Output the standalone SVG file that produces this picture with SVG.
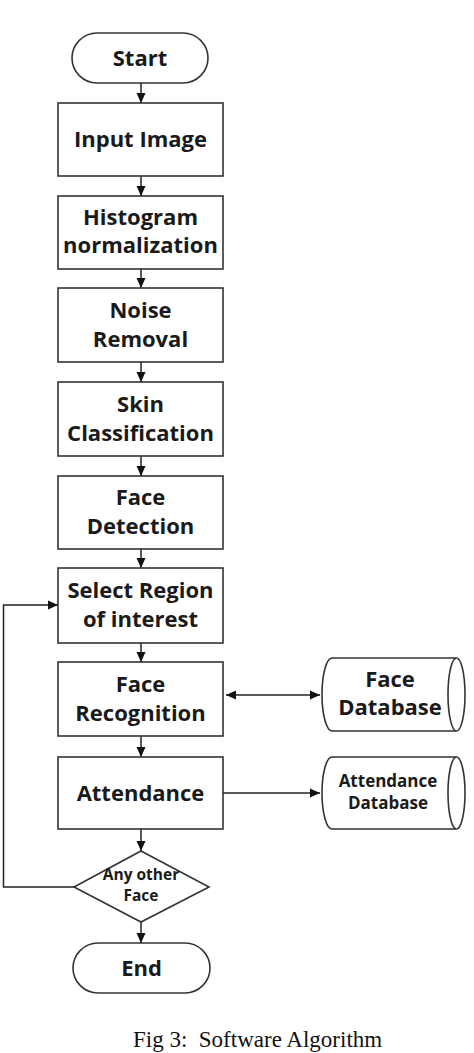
<svg xmlns="http://www.w3.org/2000/svg" width="474" height="1053" viewBox="0 0 474 1053">
<style>
.box{fill:#fff;stroke:#333;stroke-width:1.6}
.t{font-family:"Open Sans","Liberation Sans",sans-serif;font-weight:700;font-size:22px;fill:#1a1a1a;text-anchor:middle}
.ts{font-size:17px}
.td{font-size:15.5px}
.c{fill:none;stroke:#222;stroke-width:1.5}
.cap{font-family:"Liberation Serif","Times New Roman",serif;font-size:23px;fill:#111}
</style>
<defs>
<marker id="ah" markerUnits="userSpaceOnUse" markerWidth="10" markerHeight="10" viewBox="0 0 10 10" refX="10" refY="5" orient="auto">
<path d="M0,0.5 L10,5 L0,9.5 Z" fill="#111"/>
</marker>
<marker id="ahs" markerUnits="userSpaceOnUse" markerWidth="10" markerHeight="10" viewBox="0 0 10 10" refX="0" refY="5" orient="auto">
<path d="M10,0.5 L0,5 L10,9.5 Z" fill="#111"/>
</marker>
</defs>
<g id="connectors">
<line class="c" x1="141" y1="83" x2="141" y2="103" marker-end="url(#ah)"/>
<line class="c" x1="141" y1="176" x2="141" y2="196" marker-end="url(#ah)"/>
<line class="c" x1="141" y1="269" x2="141" y2="288" marker-end="url(#ah)"/>
<line class="c" x1="141" y1="362" x2="141" y2="382" marker-end="url(#ah)"/>
<line class="c" x1="141" y1="456" x2="141" y2="476" marker-end="url(#ah)"/>
<line class="c" x1="141" y1="549" x2="141" y2="568" marker-end="url(#ah)"/>
<line class="c" x1="141" y1="643" x2="141" y2="662" marker-end="url(#ah)"/>
<line class="c" x1="141" y1="736" x2="141" y2="757" marker-end="url(#ah)"/>
<line class="c" x1="141" y1="829" x2="141" y2="851" marker-end="url(#ah)"/>
<line class="c" x1="141" y1="922" x2="141" y2="943" marker-end="url(#ah)"/>
<line class="c" x1="226" y1="695" x2="320" y2="695" marker-start="url(#ahs)" marker-end="url(#ah)"/>
<line class="c" x1="223" y1="793" x2="320" y2="793" marker-end="url(#ah)"/>
<polyline class="c" points="74,887 3.5,887 3.5,605 58,605" marker-end="url(#ah)"/>
</g>
<g id="start">
<rect class="box" x="72" y="33" width="136" height="50" rx="25"/>
<text class="t" x="140" y="66">Start</text>
</g>
<g id="input-image">
<rect class="box" x="58" y="103" width="165" height="73"/>
<text class="t" x="140.5" y="147">Input Image</text>
</g>
<g id="histogram">
<rect class="box" x="58" y="196" width="165" height="73"/>
<text class="t" x="140.5" y="225">Histogram</text>
<text class="t" x="140.5" y="253">normalization</text>
</g>
<g id="noise">
<rect class="box" x="58" y="288" width="165" height="74"/>
<text class="t" x="140.5" y="318">Noise</text>
<text class="t" x="140.5" y="347">Removal</text>
</g>
<g id="skin">
<rect class="box" x="58" y="382" width="165" height="74"/>
<text class="t" x="140.5" y="412">Skin</text>
<text class="t" x="140.5" y="441">Classification</text>
</g>
<g id="face-detection">
<rect class="box" x="58" y="476" width="165" height="73"/>
<text class="t" x="140.5" y="505">Face</text>
<text class="t" x="140.5" y="534">Detection</text>
</g>
<g id="select-region">
<rect class="box" x="58" y="568" width="165" height="75"/>
<text class="t" x="140.5" y="598">Select Region</text>
<text class="t" x="140.5" y="627">of interest</text>
</g>
<g id="face-recognition">
<rect class="box" x="58" y="662" width="165" height="74"/>
<text class="t" x="140.5" y="692">Face</text>
<text class="t" x="140.5" y="721">Recognition</text>
</g>
<g id="attendance">
<rect class="box" x="58" y="757" width="165" height="72"/>
<text class="t" x="140.5" y="801">Attendance</text>
</g>
<g id="decision">
<polygon class="box" points="141,851 209,887 141,922 74,887"/>
<text class="t td" x="141" y="880">Any other</text>
<text class="t td" x="141" y="901">Face</text>
</g>
<g id="end">
<rect class="box" x="73" y="943" width="137" height="50" rx="25"/>
<text class="t" x="141.5" y="976">End</text>
</g>
<g id="face-database">
<path class="box" d="M332,658 L456.5,658 A8.5,36.5 0 0 1 456.5,731 L332,731 A10,36.5 0 0 1 332,658 Z"/>
<path class="box" d="M456.5,658 A8.5,36.5 0 0 0 456.5,731" fill="none"/>
<text class="t" x="390" y="687">Face</text>
<text class="t" x="390" y="715">Database</text>
</g>
<g id="attendance-database">
<path class="box" d="M332,757 L456.5,757 A8.5,36 0 0 1 456.5,829 L332,829 A10,36 0 0 1 332,757 Z"/>
<path class="box" d="M456.5,757 A8.5,36 0 0 0 456.5,829" fill="none"/>
<text class="t ts" x="388" y="787">Attendance</text>
<text class="t ts" x="388" y="809">Database</text>
</g>
<text class="cap" x="133" y="1047" xml:space="preserve">Fig 3:  Software Algorithm</text>
</svg>
